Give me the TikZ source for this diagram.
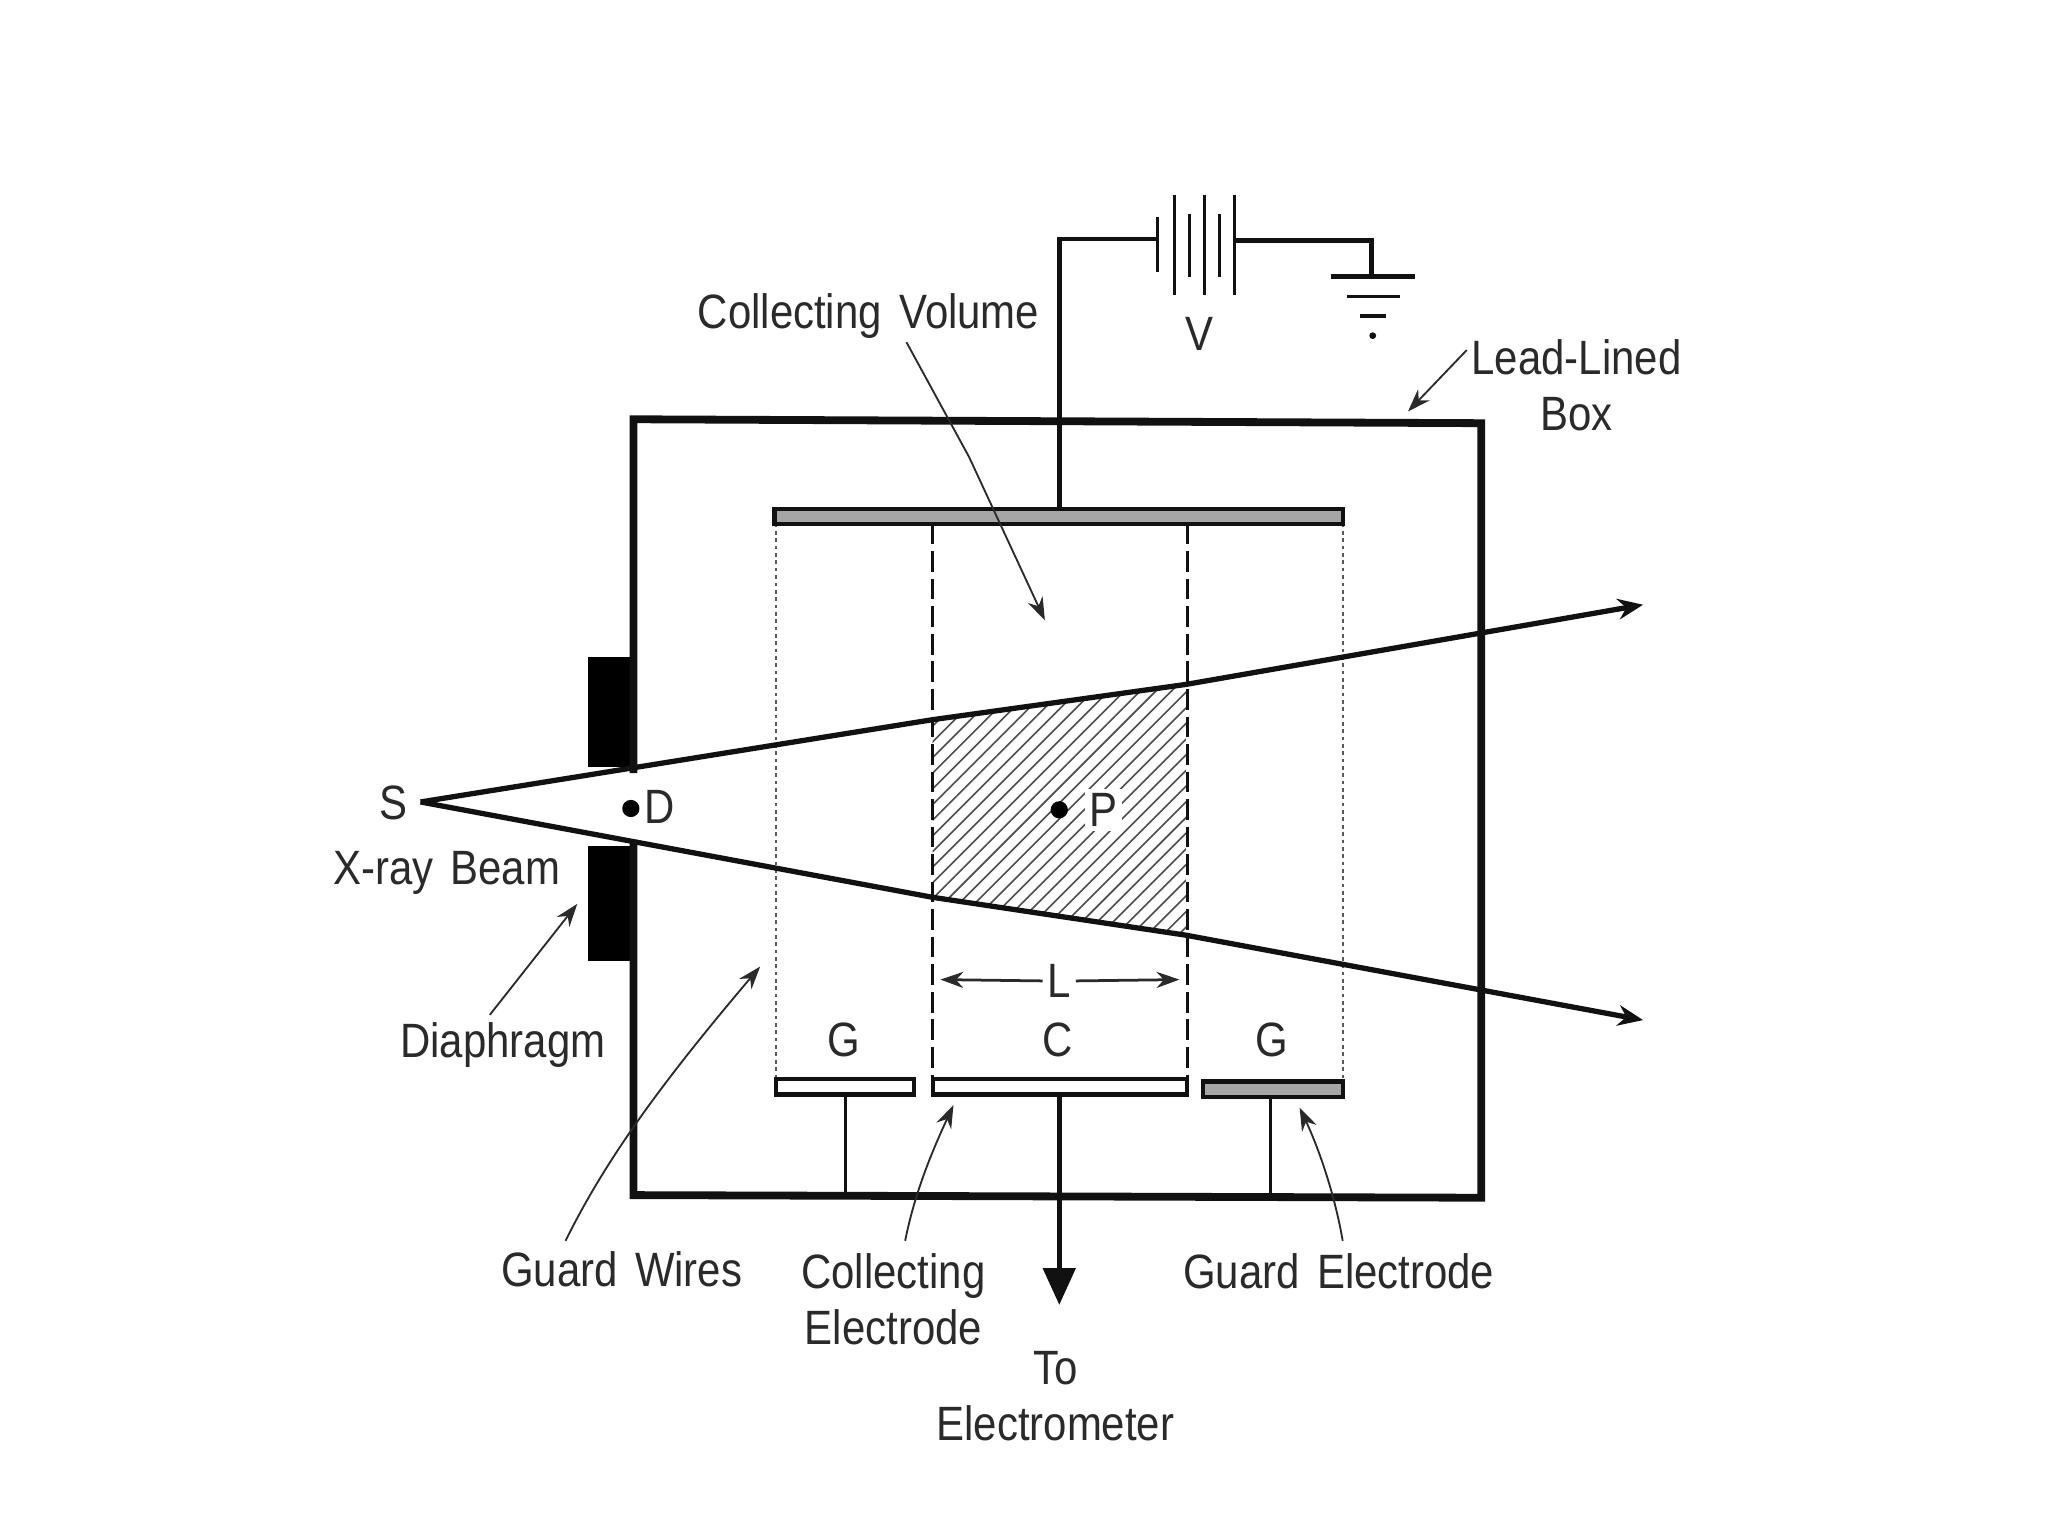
\documentclass[tikz,border=0pt]{standalone}
\usepackage{fontspec}
\setmainfont[FakeStretch=0.87,WordSpace=1.5]{Liberation Sans}
\usetikzlibrary{arrows.meta}
\definecolor{ink}{HTML}{111111}
\definecolor{txt}{HTML}{2A2A2A}
\tikzset{
  x=0.02cm,y=-0.02cm,
  lbl/.style={inner sep=0pt,text=txt,align=center,font=\fontsize{21}{24.5}\selectfont},
  boxline/.style={draw=ink,line width=3.4pt,line join=miter,line cap=rect},
  wire/.style={draw=ink,line width=2.1pt},
  thinwire/.style={draw=ink,line width=1.3pt},
  plate/.style={draw=ink,line width=1.8pt,fill=white},
  topplate/.style={draw=ink,line width=1.8pt,fill=black!35},
  beam/.style={draw=ink,line width=2.3pt,line join=round,-{Stealth[length=11pt,width=9pt]}},
  leader/.style={draw=txt,line width=0.8pt,-{Stealth[length=10pt,width=7pt]}},
  dashline/.style={draw=ink,line width=1.3pt,dash pattern=on 9pt off 3pt},
  dotline/.style={draw=black!65,line width=1pt,dash pattern=on 1.6pt off 1.6pt},
  hatchline/.style={draw=black!70,line width=0.7pt},
  spot/.style={circle,fill=black,inner sep=0pt,minimum size=7.5pt},
  block/.style={fill=black,draw=none},
}
\begin{document}
\begin{tikzpicture}
\useasboundingbox (0,0) rectangle (1568,1176);
\fill[white] (0,0) rectangle (1568,1176);
% key points
\coordinate (src) at (322,614);
\coordinate (upEnd) at (1258,463);
\coordinate (loEnd) at (1258,781);
\coordinate (hatchA) at (714,551);
\coordinate (hatchB) at (908,524);
\coordinate (hatchC) at (908,716);
\coordinate (hatchD) at (714,687);
% hatching
\begin{scope}
  \clip (hatchA) -- (hatchB) -- (hatchC) -- (hatchD) -- cycle;
  \foreach \i in {0,12,...,432}{
    \draw[hatchline] (700+\i-220,730) -- (700+\i,510);
  }
\end{scope}
% diaphragm and box
\fill[block] (450,503) rectangle (488,587);
\fill[block] (450,648) rectangle (488,736);
\draw[boxline] (485,589) -- (485,321) -- (1134,324) -- (1134,917) -- (485,915) -- (485,646);
% guide lines
\coordinate (dotAt) at (594,401);
\coordinate (dotAb) at (594,826);
\coordinate (dotBt) at (1028,401);
\coordinate (dotBb) at (1028,828);
\coordinate (dashAt) at (714,401);
\coordinate (dashAb) at (714,826);
\coordinate (dashBt) at (909,401);
\coordinate (dashBb) at (909,826);
\draw[dotline] (dotAt) -- (dotAb);
\draw[dotline] (dotBt) -- (dotBb);
\draw[dashline] (dashAt) -- (dashAb);
\draw[dashline] (dashBt) -- (dashBb);
% plates
\draw[topplate] (593,390) rectangle (1028,401);
\draw[plate] (594,826) rectangle (700,838);
\draw[plate] (714,826) rectangle (909,838);
\draw[topplate] (921,828) rectangle (1028,840);
% beam
\draw[beam] (src) -- (hatchA) -- (hatchB) -- (upEnd);
\draw[beam] (src) -- (hatchD) -- (hatchC) -- (loEnd);
% high-voltage wiring
\coordinate (plateTop) at (811,390);
\coordinate (corner) at (811,183);
\coordinate (batL) at (886,183);
\coordinate (batR) at (945,184);
\coordinate (gndCorner) at (1050,184);
\coordinate (gndTop) at (1050,212);
\draw[wire,line join=miter] (plateTop) -- (corner) -- (batL);
\draw[wire,line width=2.4pt,line join=miter] (batR) -- (gndCorner) -- (gndTop);
\foreach \px/\ya/\yb in {886/166/208, 899/149/226, 911/164/212, 922/149/226, 934/164/212, 945/149/226}{
  \draw[thinwire] (\px,\ya) -- (\px,\yb);
}
% ground
\draw[wire] (1019,212) -- (1083,212);
\draw[thinwire,line width=1.7pt] (1031,227) -- (1072,227);
\draw[thinwire,line width=1.7pt] (1041,242) -- (1061,242);
\fill[ink] (1051,257) circle (2.6);
% electrode stems
\coordinate (stemG1) at (647,838);
\coordinate (stemG1b) at (647,915);
\coordinate (stemG2) at (973,840);
\coordinate (stemG2b) at (973,916);
\coordinate (stemC) at (811,838);
\coordinate (stemCb) at (811,999);
\draw[thinwire] (stemG1) -- (stemG1b);
\draw[thinwire] (stemG2) -- (stemG2b);
\draw[draw=ink,line width=2pt,-{Triangle[length=16pt,width=14pt]}] (stemC) -- (stemCb);
% dots
\node[lbl,fill=white,inner sep=2pt] (lblP) at (845,620) {P};
\node[spot] (dotP) at (811,620) {};
\node[spot] (dotD) at (483,619) {};
% labels
\node[lbl] (lblS) at (301,615) {S};
\node[lbl] (lblBeam) at (342,668) {X-ray Beam};
\node[lbl] (lblD) at (505,618) {D};
\node[lbl] (lblV) at (918,256) {V};
\node[lbl,fill=white,inner sep=2pt] (lblL) at (811,751) {L};
\node[lbl] (lblGa) at (646,796) {G};
\node[lbl] (lblC) at (810,796) {C};
\node[lbl] (lblGb) at (974,796) {G};
\node[lbl] (lblCV) at (665,242) {Collecting Volume};
\node[lbl] (lblLead) at (1207,295) {Lead-Lined\\Box};
\node[lbl] (lblDia) at (385,800) {Diaphragm};
\node[lbl] (lblGW) at (476,972) {Guard Wires};
\node[lbl] (lblCE) at (684,995) {Collecting\\Electrode};
\node[lbl] (lblGE) at (1025,973) {Guard Electrode};
\node[lbl] (lblTo) at (808,1069) {To\\Electrometer};
% leaders
\coordinate (cvTail) at (694,262);
\coordinate (cvBend) at (742,350);
\coordinate (cvTip) at (800,475);
\coordinate (leadTail) at (1123,268);
\coordinate (leadTip) at (1078,315);
\coordinate (diaTail) at (375,777);
\coordinate (diaTip) at (442,692);
\coordinate (gwTail) at (433,950);
\coordinate (gwTip) at (582,740);
\coordinate (ceTail) at (693,950);
\coordinate (ceTip) at (730,846);
\coordinate (geTail) at (1028,950);
\coordinate (geTip) at (995,848);
\coordinate (lTipL) at (720,750);
\coordinate (lTipR) at (903,750);
\draw[leader] (cvTail) -- (cvBend) -- (cvTip);
\draw[leader] (leadTail) -- (leadTip);
\draw[leader] (diaTail) -- (diaTip);
\draw[leader] (gwTail) .. controls (465,885) and (510,825) .. (gwTip);
\draw[leader] (ceTail) .. controls (700,915) and (712,885) .. (ceTip);
\draw[leader] (geTail) .. controls (1022,915) and (1010,880) .. (geTip);
\draw[leader,line width=1.2pt] (lblL.west) -- (lTipL);
\draw[leader,line width=1.2pt] (lblL.east) -- (lTipR);
\end{tikzpicture}
\end{document}
